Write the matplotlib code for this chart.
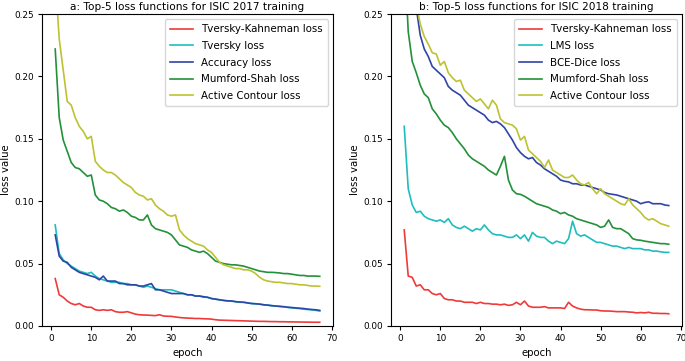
import numpy as np
import matplotlib
matplotlib.use('Agg')
import matplotlib.pyplot as plt

plt.rcParams['font.family'] = ['DejaVu Sans']
plt.rcParams['font.size'] = 7.2

epochs = list(range(1, 68))

# --- ISIC 2017 ---
tk_2017 = [0.038, 0.025, 0.023, 0.020, 0.018, 0.017, 0.018, 0.016, 0.015, 0.015,
           0.013, 0.0125, 0.013, 0.0125, 0.013, 0.0115, 0.011, 0.011, 0.0115, 0.0105,
           0.0095, 0.009, 0.0088, 0.0087, 0.0085, 0.0083, 0.009, 0.008, 0.0078, 0.0077,
           0.0072, 0.0068, 0.0065, 0.0063, 0.0062, 0.006, 0.006, 0.0058, 0.0057, 0.0055,
           0.005, 0.0047, 0.0046, 0.0045, 0.0044, 0.0043, 0.0042, 0.0041, 0.004, 0.0039,
           0.0038, 0.0037, 0.0037, 0.0036, 0.0035, 0.0035, 0.0034, 0.0034, 0.0033, 0.0033,
           0.0032, 0.0032, 0.0031, 0.0031, 0.003, 0.003, 0.003]
tversky_2017 = [0.081, 0.058, 0.053, 0.050, 0.048, 0.046, 0.044, 0.043, 0.042, 0.043,
                0.040, 0.038, 0.037, 0.036, 0.035, 0.035, 0.035, 0.034, 0.034, 0.033,
                0.033, 0.032, 0.031, 0.032, 0.031, 0.030, 0.029, 0.029, 0.029, 0.029,
                0.028, 0.027, 0.026, 0.025, 0.025, 0.024, 0.024, 0.023, 0.023, 0.022,
                0.0215, 0.021, 0.0205, 0.020, 0.020, 0.0195, 0.019, 0.019, 0.0185, 0.018,
                0.0178, 0.0175, 0.017, 0.0167, 0.0163, 0.016, 0.0157, 0.0153, 0.015, 0.0145,
                0.0142, 0.014, 0.0135, 0.0132, 0.013, 0.0125, 0.012]
accuracy_2017 = [0.073, 0.056, 0.052, 0.051, 0.047, 0.045, 0.043, 0.042, 0.041, 0.040,
                 0.039, 0.037, 0.040, 0.036, 0.036, 0.036, 0.034, 0.034, 0.033, 0.033,
                 0.033, 0.032, 0.032, 0.033, 0.034, 0.029, 0.029, 0.028, 0.027, 0.026,
                 0.026, 0.026, 0.026, 0.025, 0.025, 0.024, 0.024, 0.0235, 0.023, 0.022,
                 0.0215, 0.021, 0.0205, 0.0202, 0.020, 0.0195, 0.0192, 0.019, 0.0185, 0.018,
                 0.0178, 0.0175, 0.017, 0.0167, 0.0163, 0.016, 0.0157, 0.0155, 0.015, 0.0148,
                 0.0145, 0.0142, 0.014, 0.0135, 0.0132, 0.013, 0.0125]
mumford_2017 = [0.222, 0.167, 0.149, 0.140, 0.131, 0.127, 0.126, 0.123, 0.120, 0.121,
                0.105, 0.101, 0.100, 0.098, 0.095, 0.094, 0.092, 0.093, 0.091, 0.088,
                0.087, 0.085, 0.085, 0.089, 0.081, 0.078, 0.077, 0.076, 0.075, 0.073,
                0.069, 0.065, 0.064, 0.063, 0.061, 0.060, 0.059, 0.060, 0.058, 0.055,
                0.052, 0.051, 0.050, 0.0495, 0.049, 0.049, 0.0485, 0.048, 0.047, 0.046,
                0.045, 0.044, 0.0435, 0.043, 0.043, 0.0428, 0.0425, 0.042, 0.042, 0.0415,
                0.041, 0.0405, 0.0405, 0.040, 0.040, 0.040, 0.0398]
active_2017 = [0.280, 0.230, 0.205, 0.180, 0.177, 0.167, 0.160, 0.156, 0.150, 0.152,
               0.132, 0.128, 0.125, 0.123, 0.123, 0.121, 0.118, 0.115, 0.113, 0.111,
               0.107, 0.105, 0.104, 0.101, 0.102, 0.097, 0.094, 0.092, 0.089, 0.088,
               0.089, 0.077, 0.073, 0.070, 0.068, 0.066, 0.065, 0.064, 0.061, 0.059,
               0.055, 0.051, 0.049, 0.048, 0.047, 0.046, 0.046, 0.045, 0.045, 0.044,
               0.042, 0.039, 0.037, 0.036, 0.0355, 0.035, 0.035, 0.0345, 0.034, 0.034,
               0.0335, 0.033, 0.033, 0.0325, 0.032, 0.032, 0.0318]

# --- ISIC 2018 ---
tk_2018 = [0.077, 0.040, 0.039, 0.032, 0.033, 0.029, 0.029, 0.026, 0.025, 0.026,
           0.022, 0.021, 0.021, 0.020, 0.020, 0.019, 0.019, 0.019, 0.018, 0.019,
           0.018, 0.018, 0.0175, 0.0175, 0.017, 0.0175, 0.0165, 0.017, 0.019, 0.017,
           0.020, 0.016, 0.015, 0.015, 0.015, 0.0155, 0.0145, 0.0145, 0.0145, 0.0145,
           0.014, 0.019, 0.016, 0.0145, 0.0135, 0.013, 0.013, 0.0128, 0.0128, 0.0122,
           0.012, 0.012, 0.0118, 0.0115, 0.0115, 0.0115, 0.0112, 0.011, 0.0105, 0.0108,
           0.0105, 0.011, 0.0102, 0.0102, 0.010, 0.010, 0.0098]
lms_2018 = [0.160, 0.110, 0.097, 0.091, 0.092, 0.088, 0.086, 0.085, 0.084, 0.085,
            0.083, 0.086, 0.081, 0.079, 0.078, 0.080, 0.078, 0.076, 0.078, 0.077,
            0.081, 0.077, 0.074, 0.073, 0.073, 0.072, 0.071, 0.071, 0.073, 0.070,
            0.073, 0.068, 0.075, 0.072, 0.071, 0.071, 0.068, 0.066, 0.068, 0.067,
            0.066, 0.070, 0.084, 0.074, 0.072, 0.073, 0.071, 0.069, 0.067, 0.067,
            0.066, 0.065, 0.064, 0.064, 0.063, 0.062, 0.063, 0.062, 0.062, 0.062,
            0.061, 0.061, 0.060, 0.060, 0.0595, 0.059, 0.059]
bce_2018 = [0.320, 0.290, 0.270, 0.255, 0.233, 0.222, 0.216, 0.208, 0.205, 0.202,
            0.199, 0.192, 0.189, 0.187, 0.185, 0.181, 0.177, 0.175, 0.173, 0.171,
            0.169, 0.165, 0.163, 0.164, 0.162, 0.159, 0.154, 0.149, 0.143, 0.139,
            0.136, 0.134, 0.135, 0.131, 0.129, 0.126, 0.124, 0.122, 0.120, 0.117,
            0.116, 0.1155, 0.114, 0.114, 0.113, 0.113, 0.112, 0.111, 0.110, 0.109,
            0.107, 0.106, 0.1055, 0.105, 0.104, 0.103, 0.102, 0.101, 0.100, 0.098,
            0.099, 0.0995, 0.098, 0.098, 0.098, 0.097, 0.0965]
mumford_2018 = [0.300, 0.236, 0.212, 0.203, 0.193, 0.186, 0.183, 0.174, 0.170, 0.165,
                0.161, 0.159, 0.155, 0.150, 0.146, 0.142, 0.137, 0.134, 0.132, 0.130,
                0.128, 0.125, 0.123, 0.121, 0.128, 0.136, 0.117, 0.109, 0.106, 0.1055,
                0.104, 0.102, 0.100, 0.098, 0.097, 0.096, 0.095, 0.093, 0.092, 0.090,
                0.091, 0.089, 0.088, 0.086, 0.085, 0.084, 0.083, 0.082, 0.081, 0.079,
                0.080, 0.085, 0.079, 0.078, 0.078, 0.076, 0.074, 0.070, 0.069, 0.0687,
                0.068, 0.0675, 0.067, 0.0665, 0.066, 0.066, 0.0655]
active_2018 = [0.330, 0.300, 0.280, 0.258, 0.242, 0.232, 0.226, 0.219, 0.218, 0.209,
               0.212, 0.203, 0.199, 0.196, 0.197, 0.189, 0.186, 0.183, 0.180, 0.182,
               0.178, 0.174, 0.181, 0.177, 0.166, 0.163, 0.162, 0.161, 0.158, 0.149,
               0.152, 0.141, 0.138, 0.135, 0.132, 0.127, 0.133, 0.125, 0.123, 0.121,
               0.119, 0.119, 0.121, 0.117, 0.114, 0.113, 0.115, 0.110, 0.106, 0.110,
               0.106, 0.104, 0.102, 0.100, 0.098, 0.097, 0.102, 0.097, 0.094, 0.091,
               0.087, 0.085, 0.086, 0.084, 0.082, 0.081, 0.080]

colors = ['#f03a3a', '#1fbdbd', '#2e45a8', '#23913a', '#bcc232']

panels = [
    ("a: Top-5 loss functions for ISIC 2017 training",
     [tk_2017, tversky_2017, accuracy_2017, mumford_2017, active_2017],
     ['Tversky-Kahneman loss', 'Tversky loss', 'Accuracy loss',
      'Mumford-Shah loss', 'Active Contour loss']),
    ("b: Top-5 loss functions for ISIC 2018 training",
     [tk_2018, lms_2018, bce_2018, mumford_2018, active_2018],
     ['Tversky-Kahneman loss', 'LMS loss', 'BCE-Dice loss',
      'Mumford-Shah loss', 'Active Contour loss']),
]

fig = plt.figure(figsize=(6.85, 3.61), dpi=100)
axes = [fig.add_axes([0.0613, 0.097, 0.4248, 0.864]),
        fig.add_axes([0.5708, 0.097, 0.4248, 0.864])]

for ax, (title, series, labels) in zip(axes, panels):
    for vals, lab, col in zip(series, labels, colors):
        ax.plot(epochs, vals, color=col, lw=1.2, label=lab)
    ax.set_ylim(0, 0.25)
    ax.set_xticks(range(0, 71, 10))
    ax.tick_params(labelsize=6.4, length=3, pad=2.5)
    ax.set_title(title, fontsize=7.6, pad=3)
    ax.set_xlabel('epoch', fontsize=7.3, labelpad=4)
    ax.set_ylabel('loss value', fontsize=7.3, labelpad=3)
    ax.legend(loc='upper right', fontsize=7.4, handlelength=2.2,
              labelspacing=0.65, borderpad=0.5)

fig.savefig('out.png', dpi=100)
